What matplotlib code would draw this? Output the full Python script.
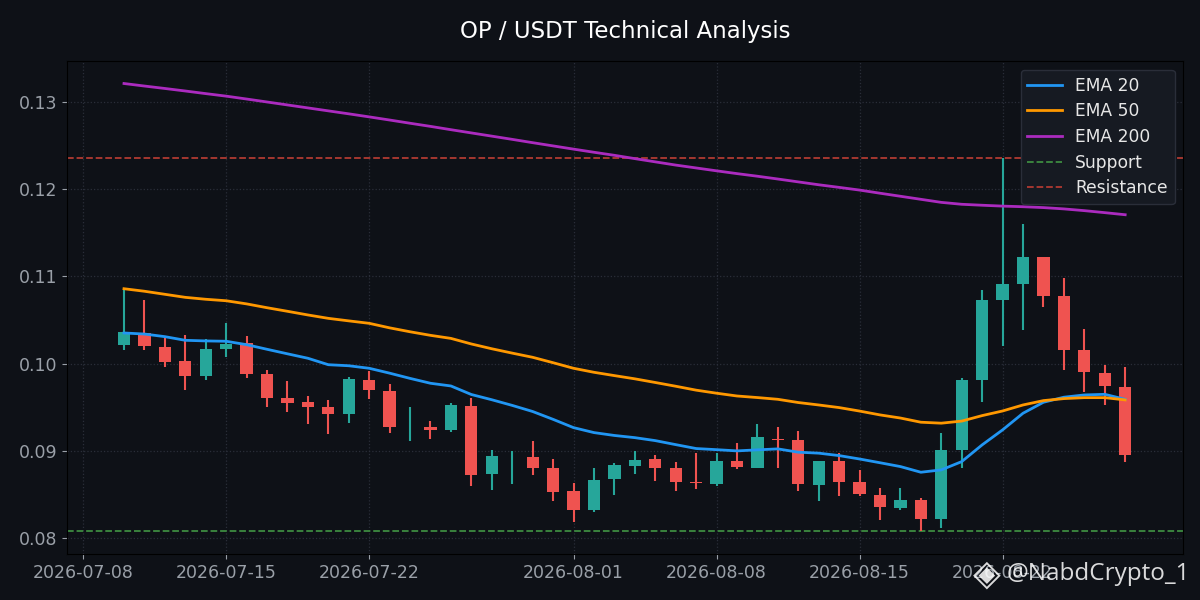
import matplotlib
matplotlib.use("Agg")
import matplotlib.pyplot as plt
import matplotlib.dates as mdates
import pandas as pd

# daily candles 2026-07-10 .. 2026-08-28
dates = pd.date_range("2026-07-10", periods=50, freq="D")

opens = [0.10213, 0.10351, 0.10190, 0.10030, 0.09858, 0.10167, 0.10236, 0.09881, 0.09606, 0.09560,
         0.09502, 0.09422, 0.09812, 0.09686, 0.09350, 0.09273, 0.09239, 0.09514, 0.08734, 0.08850,
         0.08929, 0.08803, 0.08539, 0.08321, 0.08677, 0.08826, 0.08906, 0.08803, 0.08637, 0.08619,
         0.08883, 0.08803, 0.09139, 0.09124, 0.08608, 0.08883, 0.08642, 0.08493, 0.08344, 0.08436,
         0.08218, 0.09009, 0.09812, 0.10729, 0.10913, 0.11222, 0.10775, 0.10156, 0.09892, 0.09732]
highs = [0.10855, 0.10729, 0.10305, 0.10328, 0.10282, 0.10466, 0.10317, 0.09927, 0.09800, 0.09628,
         0.09583, 0.09846, 0.09915, 0.09766, 0.09502, 0.09342, 0.09548, 0.09606, 0.09009, 0.08998,
         0.09112, 0.08906, 0.08631, 0.08803, 0.08860, 0.08998, 0.08952, 0.08872, 0.08975, 0.08975,
         0.09089, 0.09307, 0.09273, 0.09227, 0.08883, 0.08975, 0.08780, 0.08573, 0.08573, 0.08459,
         0.09204, 0.09835, 0.10844, 0.12358, 0.11601, 0.11222, 0.10982, 0.10397, 0.09984, 0.09961]
lows = [0.10156, 0.10156, 0.09961, 0.09697, 0.09812, 0.10076, 0.09835, 0.09502, 0.09445, 0.09307,
        0.09193, 0.09319, 0.09594, 0.09204, 0.09112, 0.09135, 0.09216, 0.08596, 0.08550, 0.08619,
        0.08722, 0.08424, 0.08183, 0.08298, 0.08493, 0.08734, 0.08654, 0.08539, 0.08562, 0.08596,
        0.08791, 0.08803, 0.08803, 0.08539, 0.08424, 0.08482, 0.08482, 0.08206, 0.08321, 0.08080,
        0.08115, 0.08803, 0.09560, 0.10202, 0.10385, 0.10649, 0.09927, 0.09674, 0.09525, 0.08872]
closes = [0.10362, 0.10202, 0.10018, 0.09858, 0.10167, 0.10225, 0.09881, 0.09606, 0.09548, 0.09502,
          0.09422, 0.09823, 0.09697, 0.09273, 0.09350, 0.09239, 0.09525, 0.08722, 0.08940, 0.08850,
          0.08803, 0.08528, 0.08321, 0.08665, 0.08837, 0.08894, 0.08803, 0.08642, 0.08625, 0.08883,
          0.08814, 0.09158, 0.09128, 0.08619, 0.08883, 0.08642, 0.08505, 0.08356, 0.08436, 0.08218,
          0.09009, 0.09812, 0.10729, 0.10913, 0.11222, 0.10775, 0.10156, 0.09904, 0.09743, 0.08952]

ema20 = [0.10351, 0.10339, 0.10309, 0.10267, 0.10260, 0.10256, 0.10217, 0.10164, 0.10112, 0.10061,
         0.09987, 0.09975, 0.09946, 0.09890, 0.09830, 0.09774, 0.09743, 0.09645, 0.09585, 0.09520,
         0.09450, 0.09360, 0.09265, 0.09208, 0.09175, 0.09150, 0.09116, 0.09070, 0.09025, 0.09012,
         0.08998, 0.09010, 0.09021, 0.08983, 0.08972, 0.08944, 0.08905, 0.08862, 0.08818, 0.08753,
         0.08780, 0.08875, 0.09067, 0.09239, 0.09430, 0.09556, 0.09614, 0.09640, 0.09647, 0.09590]
ema50 = [0.10859, 0.10830, 0.10795, 0.10760, 0.10738, 0.10721, 0.10685, 0.10641, 0.10600, 0.10558,
         0.10519, 0.10490, 0.10462, 0.10410, 0.10365, 0.10324, 0.10289, 0.10225, 0.10170, 0.10120,
         0.10072, 0.10010, 0.09946, 0.09900, 0.09862, 0.09825, 0.09783, 0.09740, 0.09695, 0.09660,
         0.09628, 0.09610, 0.09590, 0.09553, 0.09525, 0.09495, 0.09455, 0.09411, 0.09375, 0.09327,
         0.09316, 0.09340, 0.09403, 0.09456, 0.09525, 0.09575, 0.09598, 0.09609, 0.09609, 0.09583]
ema200 = [0.13214, 0.13185, 0.13157, 0.13128, 0.13098, 0.13069, 0.13036, 0.13002, 0.12968, 0.12934,
          0.12900, 0.12866, 0.12831, 0.12795, 0.12758, 0.12722, 0.12684, 0.12647, 0.12610, 0.12573,
          0.12535, 0.12498, 0.12461, 0.12425, 0.12390, 0.12352, 0.12315, 0.12278, 0.12245, 0.12212,
          0.12180, 0.12150, 0.12118, 0.12085, 0.12052, 0.12022, 0.11991, 0.11955, 0.11920, 0.11885,
          0.11850, 0.11828, 0.11817, 0.11807, 0.11800, 0.11790, 0.11775, 0.11755, 0.11732, 0.11708]

support = min(lows)
resistance = max(highs)

BG = "#0e1117"
UP = "#26a69a"
DOWN = "#ef5350"

fig = plt.figure(figsize=(12, 6), dpi=100, facecolor=BG)
ax = fig.add_axes([0.056, 0.077, 0.93, 0.821])
ax.set_facecolor(BG)

x = mdates.date2num(dates)
for i in range(len(x)):
    c = UP if closes[i] >= opens[i] else DOWN
    ax.vlines(x[i], lows[i], highs[i], color=c, linewidth=1.5, zorder=2)
    lo = min(opens[i], closes[i])
    h = abs(closes[i] - opens[i])
    ax.bar(x[i], h, bottom=lo, width=0.6, color=c, linewidth=0, zorder=3)

ax.plot(x, ema20, color="#2196f3", linewidth=2, label="EMA 20", zorder=4)
ax.plot(x, ema50, color="#ff9800", linewidth=2, label="EMA 50", zorder=4)
ax.plot(x, ema200, color="#ab2bbf", linewidth=2, label="EMA 200", zorder=4)
ax.axhline(support, color="#3d8b40", linestyle="--", linewidth=1.3, label="Support", zorder=1)
ax.axhline(resistance, color="#b03a32", linestyle="--", linewidth=1.3, label="Resistance", zorder=1)

ax.set_xlim(mdates.date2num(pd.Timestamp("2026-07-08")) - 0.78,
            mdates.date2num(pd.Timestamp("2026-07-08")) + 53.84)
ax.set_ylim(0.07817, 0.13470)

ax.xaxis.set_major_locator(mdates.DayLocator(bymonthday=[1, 8, 15, 22]))
ax.xaxis.set_major_formatter(mdates.DateFormatter("%Y-%m-%d"))

ax.grid(True, color="#2a2e39", linestyle=":", linewidth=0.9)
ax.set_axisbelow(True)
ax.tick_params(colors="#9aa0a8", labelsize=12.5)
for s in ax.spines.values():
    s.set_color("black")

ax.set_title("OP / USDT Technical Analysis", color="white", fontsize=16.5, pad=17)

leg = ax.legend(loc="upper right", fontsize=12.3, facecolor="#161a22",
                edgecolor="#2a2e39", framealpha=1, labelspacing=0.45)
for t in leg.get_texts():
    t.set_color("#e6e6e6")

# watermark: logo + handle
fig.text(0.822, 0.043, "◈", ha="center", va="center", fontsize=26,
         color="white", alpha=0.85)
fig.text(0.992, 0.043, "@NabdCrypto_1", ha="right", va="center",
         fontsize=17.5, color="white", alpha=0.85, family=["Open Sans", "DejaVu Sans"])

fig.savefig("out.png", facecolor=BG)
